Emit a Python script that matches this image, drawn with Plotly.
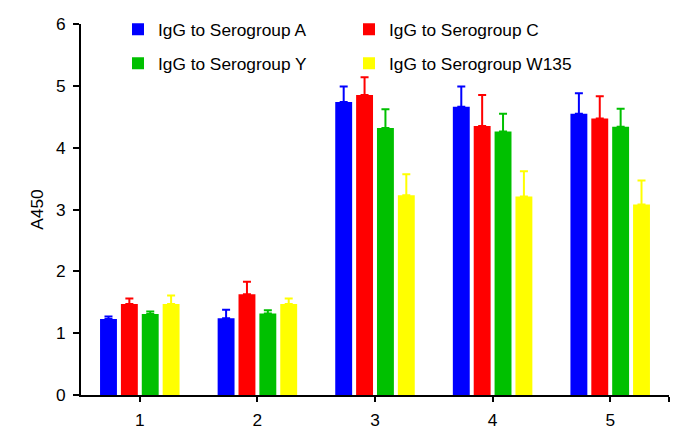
import plotly.graph_objects as go

categories = [1, 2, 3, 4, 5]
series_names = ["IgG to Serogroup A", "IgG to Serogroup C", "IgG to Serogroup Y", "IgG to Serogroup W135"]
colors = ["#0000FF", "#FF0000", "#00C000", "#FFFF00"]

values_A = [1.23, 1.24, 4.74, 4.66, 4.55]
values_C = [1.47, 1.63, 4.85, 4.35, 4.47]
values_Y = [1.31, 1.32, 4.32, 4.26, 4.34]
values_W = [1.47, 1.47, 3.23, 3.21, 3.08]

err_A = [0.04, 0.14, 0.25, 0.33, 0.33]
err_C = [0.09, 0.20, 0.29, 0.50, 0.36]
err_Y = [0.04, 0.05, 0.30, 0.29, 0.29]
err_W = [0.14, 0.09, 0.34, 0.41, 0.39]

y_ticks = [0, 1, 2, 3, 4, 5, 6]

all_values = [values_A, values_C, values_Y, values_W]
all_errs = [err_A, err_C, err_Y, err_W]
legend_ids = ["legend", "legend", "legend2", "legend2"]

W, H = 692, 444
ML, MR, MT, MB = 81, 23, 23, 49
PW, PH = W - ML - MR, H - MT - MB
FONT = "Liberation Sans, Arial, sans-serif"

fig = go.Figure()
for name, col, vals, errs, lg in zip(series_names, colors, all_values, all_errs, legend_ids):
    fig.add_trace(go.Bar(
        x=categories, y=vals, name=name,
        marker=dict(color=col, line=dict(width=0)),
        error_y=dict(type="data", array=errs, arrayminus=[0] * len(errs),
                     symmetric=False, color=col, thickness=2, width=4),
        legend=lg,
    ))

legend_common = dict(
    orientation="h", xref="paper", yref="paper",
    xanchor="left", yanchor="middle",
    font=dict(family=FONT, size=17.3, color="#000000"),
    bgcolor="rgba(0,0,0,0)", borderwidth=0,
    entrywidth=186, entrywidthmode="pixels",
    traceorder="normal",
)

fig.update_layout(
    width=W, height=H,
    margin=dict(l=ML, r=MR, t=MT, b=MB),
    paper_bgcolor="white", plot_bgcolor="white",
    barmode="group", bargap=0.29, bargroupgap=0.19,
    font=dict(family=FONT, size=17, color="#000000"),
    showlegend=True,
    legend=dict(x=(118 - ML) / PW, y=1 - (29.5 - MT) / PH, **legend_common),
    legend2=dict(x=(118 - ML) / PW, y=1 - (63.5 - MT) / PH, **legend_common),
    xaxis=dict(
        range=[0.5, 5.5],
        tickvals=categories + [5.5],
        ticktext=[str(c) for c in categories] + [""],
        ticks="outside", ticklen=5, tickwidth=2, tickcolor="black",
        showline=True, linewidth=2, linecolor="black",
        showgrid=False, zeroline=False,
        tickfont=dict(family=FONT, size=17.3, color="black"),
        ticklabelstandoff=3,
    ),
    yaxis=dict(
        range=[0, 6], tickvals=y_ticks,
        ticks="outside", ticklen=6, tickwidth=2, tickcolor="black",
        showline=True, linewidth=2, linecolor="black",
        showgrid=False, zeroline=False,
        tickfont=dict(family=FONT, size=17.3, color="black"),
        ticklabelstandoff=4,
        title=dict(text="A450", font=dict(family=FONT, size=17.3, color="black"), standoff=8),
    ),
)

fig.write_html("out.html")
